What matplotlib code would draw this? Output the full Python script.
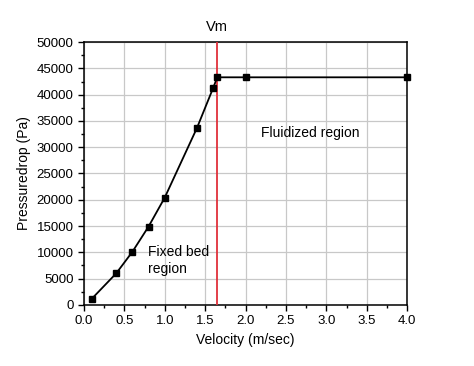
import matplotlib

matplotlib.use("Agg")
import matplotlib.pyplot as plt
from matplotlib.ticker import MultipleLocator

plt.rcParams.update({
    "font.family": ["Liberation Sans", "DejaVu Sans"],
    "font.size": 9.5,
})

velocity = [0.1, 0.4, 0.6, 0.8, 1.0, 1.4, 1.6, 1.65, 2.0, 4.0]
pressure = [1200, 6000, 10100, 14900, 20400, 33700, 41300, 43300, 43300, 43300]
v_min = 1.65

fig = plt.figure(figsize=(4.74, 3.66), dpi=100)
ax = fig.add_axes([0.177, 0.167, 0.682, 0.718])

ax.plot(velocity, pressure, "-", color="black", lw=1.3, marker="s", ms=4.5, zorder=4,
        clip_on=False)
ax.axvline(v_min, color="#e0303a", lw=1.3, zorder=3)

ax.set_xlim(0, 4)
ax.set_ylim(0, 50000)
ax.xaxis.set_major_locator(MultipleLocator(0.5))
ax.xaxis.set_minor_locator(MultipleLocator(0.25))
ax.yaxis.set_major_locator(MultipleLocator(5000))
ax.yaxis.set_minor_locator(MultipleLocator(2500))
ax.set_xticklabels([f"{t:.1f}" for t in ax.get_xticks()])
ax.tick_params(which="major", direction="out", length=4, width=1)
ax.tick_params(which="minor", direction="out", length=2, width=1)
ax.grid(True, which="major", color="#c8c8c8", lw=0.9, zorder=0)
for s in ax.spines.values():
    s.set_linewidth(1.1)

ax.set_xlabel("Velocity (m/sec)", fontsize=10)
ax.set_ylabel("Pressuredrop (Pa)", fontsize=10)

ax.text(0.79, 11300, "Fixed bed\nregion", fontsize=10, va="top", ha="left")
ax.text(2.8, 32700, "Fluidized region", fontsize=10, va="center", ha="center")
ax.text(v_min, 51500, "Vm", fontsize=10.5, va="bottom", ha="center")

fig.savefig("out.png", dpi=100)
